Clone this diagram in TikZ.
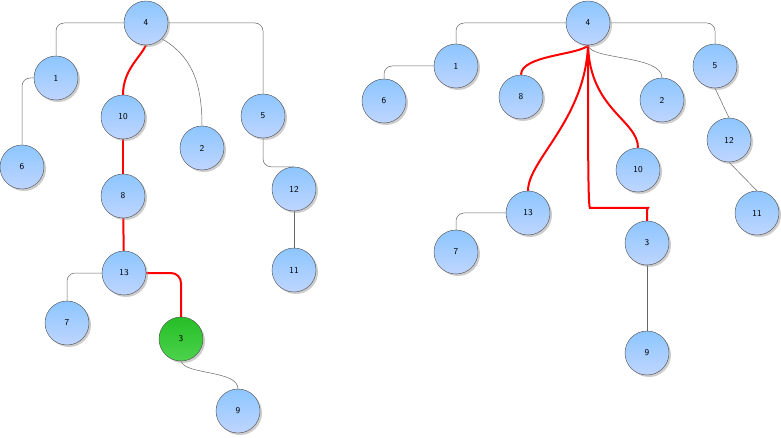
\documentclass[tikz,border=0pt]{standalone}
\usetikzlibrary{shadows,backgrounds}
\begin{document}
\begin{tikzpicture}[x=1pt,y=-1pt,
 nd/.style={circle,draw=black!70,top color=cyan!50!blue!45!white,bottom color=cyan!35!blue!25!white,minimum size=44pt,inner sep=0pt,font=\sffamily\small,drop shadow={shadow xshift=2pt,shadow yshift=-2pt,fill=black!40}},
 gn/.style={nd,top color=green!70!black!85,bottom color=green!75!black!70},
 ge/.style={draw=black!60,line width=0.5pt,rounded corners=8pt},
 re/.style={draw=red,line width=2pt,rounded corners=10pt}]
\useasboundingbox (0,0) rectangle (781,438);
% left tree
\node[nd] (a4) at (146,23) {4};
\node[nd] (a1) at (56,78) {1};
\node[nd] (a10) at (123,117) {10};
\node[nd] (a2) at (202,148) {2};
\node[nd] (a5) at (263,116) {5};
\node[nd] (a6) at (22,167) {6};
\node[nd] (a8) at (123,196) {8};
\node[nd] (a12) at (294,189) {12};
\node[nd] (a13) at (124,273) {13};
\node[nd] (a11) at (294,270) {11};
\node[nd] (a7) at (67,323) {7};
\node[gn] (a3) at (181,339) {3};
\node[nd] (a9) at (238,411) {9};
% right tree
\node[nd] (b4) at (588,23) {4};
\node[nd] (b1) at (456,66) {1};
\node[nd] (b6) at (384,101) {6};
\node[nd] (b8) at (521,97) {8};
\node[nd] (b2) at (662,100) {2};
\node[nd] (b5) at (715,66) {5};
\node[nd] (b12) at (729,140) {12};
\node[nd] (b10) at (638,170) {10};
\node[nd] (b11) at (757,213) {11};
\node[nd] (b13) at (528,213) {13};
\node[nd] (b3) at (647,243) {3};
\node[nd] (b7) at (456,252) {7};
\node[nd] (b9) at (647,353) {9};
\begin{scope}[on background layer]
\draw[ge] (a4.west) -| (a1.north);
\draw[ge] (a4.east) -| (a5.north);
\draw[ge] (a4.south east) .. controls (190,55) and (202,80) .. (a2.north);
\draw[ge] (a1.west) -| (a6.north);
\draw[ge] (a5.south) |- (a12.north);
\draw[ge] (a12) -- (a11);
\draw[ge] (a13.west) -| (a7.north);
\draw[ge] (a3.south) .. controls (185,375) and (238,370) .. (a9.north);
\draw[re] (a4.south) .. controls (140,58) and (123,70) .. (a10.north);
\draw[re] (a10) -- (a8);
\draw[re] (a8) -- (a13);
\draw[re] (a13.east) -| (a3.north);
\draw[ge] (b4.west) -| (b1.north);
\draw[ge] (b4.east) -| (b5.north);
\draw[ge] (b1.west) -| (b6.north);
\draw[ge] (b4.south) .. controls (590,60) and (662,55) .. (b2.north);
\draw[ge] (b5.south) -- (b12.north);
\draw[ge] (b12.south) -- (b11.north);
\draw[ge] (b13.west) -| (b7.north);
\draw[ge] (b3) -- (b9);
\draw[re] (b4.south) .. controls (580,55) and (521,55) .. (b8.north);
\draw[re] (b4.south) .. controls (590,110) and (638,120) .. (b10.north);
\draw[re] (b4.south) .. controls (585,120) and (528,160) .. (b13.north);
\draw[re] (b4.south) .. controls (588,140) and (588,208) .. (600,208) -- (638,208) .. controls (647,208) .. (b3.north);
\end{scope}
\end{tikzpicture}
\end{document}
